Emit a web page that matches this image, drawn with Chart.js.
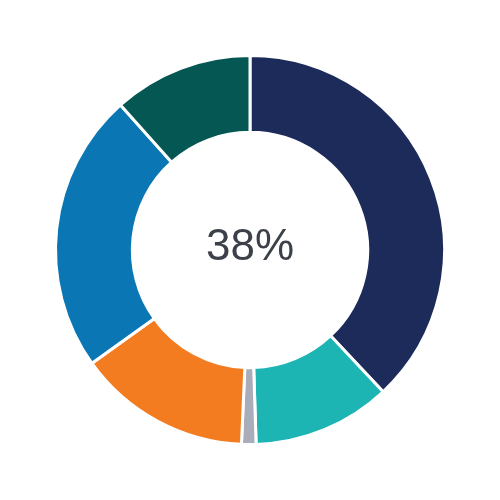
<!DOCTYPE html>
<html>
<head>
<meta charset="utf-8">
<script src="https://cdn.jsdelivr.net/npm/chart.js@4/dist/chart.umd.min.js"></script>
<style>
html,body{margin:0;padding:0;background:#fff;}
#wrap{width:500px;height:500px;}
</style>
</head>
<body>
<div id="wrap"><canvas id="c" width="500" height="500"></canvas></div>
<script>
const categories = ["Segment A", "Segment B", "Segment C", "Segment D", "Segment E", "Segment F"];
const values = [38, 11.5, 1.2, 14.4, 23.3, 11.6];
const colors = ["#1c2b5a", "#1cb5b4", "#a9adba", "#f47c20", "#0a77b4", "#045752"];
const centerLabel = "38%";

const centerText = {
  id: 'centerText',
  afterDraw(chart) {
    const meta = chart.getDatasetMeta(0);
    if (!meta.data.length) return;
    const arc = meta.data[0];
    const ctx = chart.ctx;
    ctx.save();
    ctx.font = '44px "Liberation Sans", Arial, sans-serif';
    ctx.fillStyle = '#3c4048';
    ctx.textAlign = 'center';
    ctx.textBaseline = 'middle';
    ctx.fillText(centerLabel, arc.x, arc.y - 2);
    ctx.restore();
  }
};

new Chart(document.getElementById('c'), {
  type: 'doughnut',
  data: {
    labels: categories,
    datasets: [{
      data: values,
      backgroundColor: colors,
      borderColor: '#ffffff',
      borderWidth: 3,
      hoverOffset: 0
    }]
  },
  options: {
    responsive: false,
    animation: false,
    cutout: '60.5%',
    layout: { padding: 54 },
    plugins: {
      legend: { display: false },
      tooltip: { enabled: false }
    }
  },
  plugins: [centerText]
});
</script>
</body>
</html>
